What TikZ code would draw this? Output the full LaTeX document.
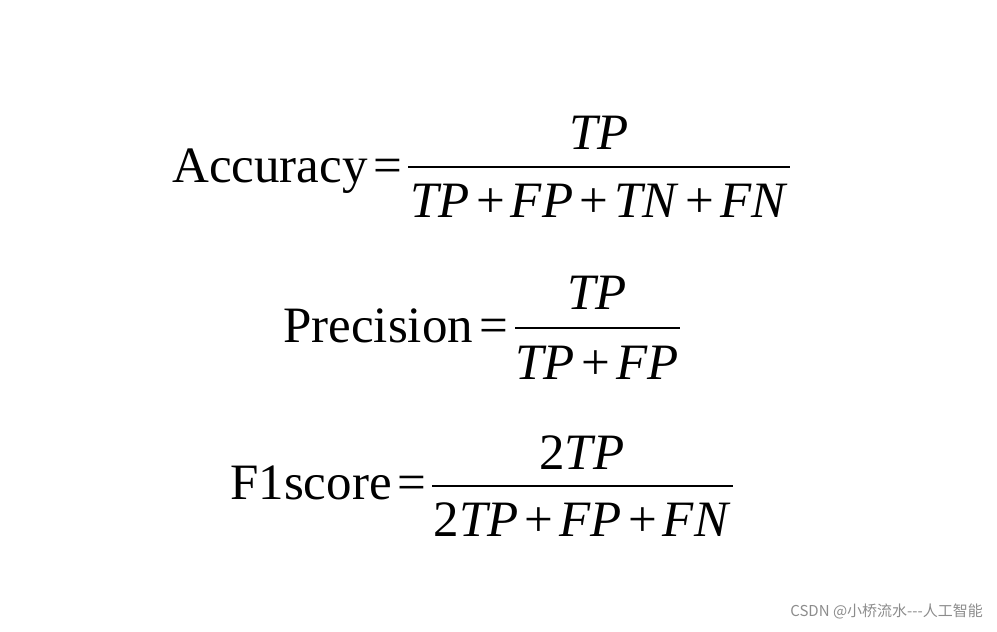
\documentclass[tikz,border=0pt]{standalone}
\usepackage{fontspec}
\setmainfont{Liberation Serif}
\newfontfamily\cjkwm{Noto Sans CJK SC}
\newcommand\fv[1]{\textit{#1}}
\newcommand\pl{\hspace{0.12em}+\hspace{0.12em}}
\begin{document}
\begin{tikzpicture}[x=1pt,y=1pt,
  eq/.style={anchor=base,inner sep=0pt,font=\fontsize{51}{55}\selectfont},
  fl/.style={line width=1.6pt}]
\useasboundingbox (0,0) rectangle (997,632);
% Accuracy
\node[eq,anchor=base west] (a1) at (172,632-183) {Accuracy\hspace{0.12em}=};
\coordinate (a2) at (408,632-167); \coordinate (a3) at (790,632-167);
\draw[fl] (a2) -- (a3);
\node[eq] (a4) at (599,632-150) {\fv{TP}};
\node[eq] (a5) at (599,632-218) {\fv{TP}\pl\fv{FP}\pl\fv{TN}\pl\fv{FN}};
% Precision
\node[eq,anchor=base west] (p1) at (283,632-343) {Precision\hspace{0.12em}=};
\coordinate (p2) at (515,632-328); \coordinate (p3) at (680,632-328);
\draw[fl] (p2) -- (p3);
\node[eq] (p4) at (597,632-310) {\fv{TP}};
\node[eq] (p5) at (597,632-380) {\fv{TP}\pl\fv{FP}};
% F1score
\node[eq,anchor=base west] (f1) at (230,632-500) {F1score\hspace{0.12em}=};
\coordinate (f2) at (432,632-486); \coordinate (f3) at (733,632-486);
\draw[fl] (f2) -- (f3);
\node[eq] (f4) at (582,632-470) {2\fv{TP}};
\node[eq] (f5) at (582,632-537) {2\fv{TP}\pl\fv{FP}\pl\fv{FN}};
% watermark
\node[anchor=base east,inner sep=0pt,text=black!45,font=\cjkwm\fontsize{15}{17}\selectfont] (w) at (983,632-617) {CSDN @小桥流水---人工智能};
\end{tikzpicture}
\end{document}
